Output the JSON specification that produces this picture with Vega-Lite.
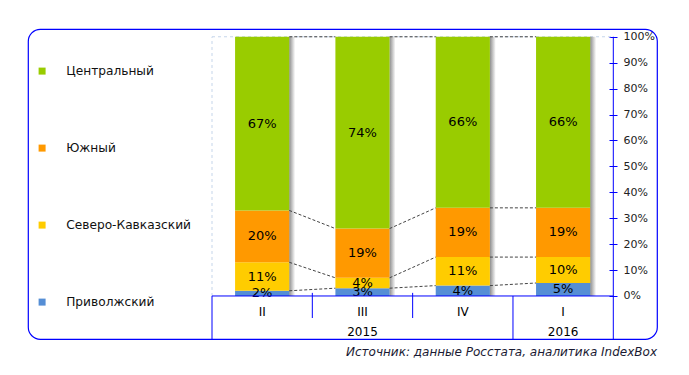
{
  "$schema": "https://vega.github.io/schema/vega-lite/v6.json",
  "width": 629,
  "height": 310,
  "autosize": {"type": "none"},
  "padding": {"left": 28, "top": 29, "right": 32, "bottom": 36},
  "background": "#ffffff",
  "config": {
    "font": "DejaVu Sans",
    "view": {"stroke": "#0000FF", "strokeWidth": 1.2, "cornerRadius": 12, "fill": "#ffffff"}
  },
  "title": {
    "text": "Источник: данные Росстата, аналитика IndexBox",
    "orient": "bottom",
    "anchor": "end",
    "frame": "group",
    "fontSize": 12,
    "fontStyle": "italic",
    "fontWeight": "normal",
    "color": "#1a1a33",
    "offset": 7
  },
  "datasets": {
    "shares": [
      {"period": "2015 II", "region": "Приволжский", "value": 2, "order": 1},
      {"period": "2015 II", "region": "Северо-Кавказский", "value": 11, "order": 2},
      {"period": "2015 II", "region": "Южный", "value": 20, "order": 3},
      {"period": "2015 II", "region": "Центральный", "value": 67, "order": 4},
      {"period": "2015 III", "region": "Приволжский", "value": 3, "order": 1},
      {"period": "2015 III", "region": "Северо-Кавказский", "value": 4, "order": 2},
      {"period": "2015 III", "region": "Южный", "value": 19, "order": 3},
      {"period": "2015 III", "region": "Центральный", "value": 74, "order": 4},
      {"period": "2015 IV", "region": "Приволжский", "value": 4, "order": 1},
      {"period": "2015 IV", "region": "Северо-Кавказский", "value": 11, "order": 2},
      {"period": "2015 IV", "region": "Южный", "value": 19, "order": 3},
      {"period": "2015 IV", "region": "Центральный", "value": 66, "order": 4},
      {"period": "2016 I", "region": "Приволжский", "value": 5, "order": 1},
      {"period": "2016 I", "region": "Северо-Кавказский", "value": 10, "order": 2},
      {"period": "2016 I", "region": "Южный", "value": 19, "order": 3},
      {"period": "2016 I", "region": "Центральный", "value": 66, "order": 4}
    ]
  },
  "layer": [
    {
      "data": {"values": [{}]},
      "mark": {"type": "rule", "color": "#C5D5EA", "strokeDash": [3, 3], "strokeWidth": 1},
      "encoding": {
        "x": {"datum": "2015 II", "type": "nominal", "bandPosition": 0,
              "scale": {"domain": ["2015 II", "2015 III", "2015 IV", "2016 I"], "range": [184, 585.3], "paddingInner": 0, "paddingOuter": 0},
              "axis": {"orient": "bottom", "offset": -43, "domain": false, "ticks": false, "grid": false,
                       "labelPadding": 10, "labelBaseline": "top", "labelLineHeight": 20, "labelAngle": 0,
                       "labelFontSize": 12, "labelColor": "#000000", "title": null,
                       "labelExpr": "datum.value == '2015 III' ? ['III', '2015'] : datum.value == '2016 I' ? ['I', '2016'] : split(datum.value, ' ')[1]"}},
        "y": {"datum": 0, "type": "quantitative", "scale": {"domain": [-16.6, 103], "nice": false, "zero": false},
              "axis": {"orient": "right", "offset": -48, "values": [0, 10, 20, 30, 40, 50, 60, 70, 80, 90, 100],
                       "tickCount": 12,
                       "domain": false, "grid": false, "tickSize": 8, "tickColor": "#0000FF", "tickWidth": 1,
                       "labelPadding": 6, "labelFontSize": 11, "labelColor": "#222222", "labelAlign": "left",
                       "labelOverlap": false, "labelFlush": false,
                       "labelExpr": "datum.value + '%'", "title": null}},
        "y2": {"datum": 100}
      }
    },
    {
      "data": {"values": [{}]},
      "mark": {"type": "rule", "color": "#C5D5EA", "strokeDash": [3, 3], "strokeWidth": 1},
      "encoding": {
        "x": {"datum": "2015 II", "type": "nominal", "bandPosition": 0},
        "x2": {"datum": "2016 I", "bandPosition": 1},
        "y": {"datum": 100, "type": "quantitative"}
      }
    },
    {
      "data": {"name": "shares"},
      "transform": [
        {"stack": "value", "groupby": ["period"], "sort": [{"field": "order", "order": "ascending"}], "as": ["y0", "y1"]},
        {"calculate": "(datum.y0 + datum.y1) / 2", "as": "mid"},
        {"calculate": "datum.value + '%'", "as": "label"}
      ],
      "layer": [
        {
          "transform": [{"filter": "datum.region == 'Центральный'"}],
          "mark": {"type": "bar", "width": {"band": 0.06}, "xOffset": 30,
                   "color": {"gradient": "linear", "x1": 0, "x2": 1, "y1": 0, "y2": 0,
                             "stops": [{"offset": 0, "color": "#8c8c8c"}, {"offset": 1, "color": "#ffffff"}]}},
          "encoding": {
            "x": {"field": "period", "type": "nominal"},
            "y": {"field": "y1", "type": "quantitative"},
            "y2": {"datum": 0}
          }
        },
        {
          "mark": {"type": "bar", "width": {"band": 0.54}},
          "encoding": {
            "x": {"field": "period", "type": "nominal"},
            "y": {"field": "y0", "type": "quantitative"},
            "y2": {"field": "y1"},
            "color": {"field": "region", "type": "nominal",
                      "scale": {"domain": ["Центральный", "Южный", "Северо-Кавказский", "Приволжский"],
                                "range": ["#99CC00", "#FF9900", "#FFCC00", "#558ED5"]},
                      "legend": {"orient": "none", "legendX": 8, "legendY": 36, "title": null,
                                 "symbolType": "square", "symbolSize": 49, "symbolStrokeWidth": 0,
                                 "labelFontSize": 12.2, "labelOffset": 18, "rowPadding": 64, "padding": 0,
                                 "labelColor": "#111111"}}
          }
        },
        {
          "mark": {"type": "text", "fontSize": 13, "color": "#000000", "baseline": "middle"},
          "encoding": {
            "x": {"field": "period", "type": "nominal"},
            "y": {"field": "mid", "type": "quantitative"},
            "text": {"field": "label"}
          }
        },
        {
          "transform": [
            {"window": [{"op": "lead", "field": "y1", "as": "ny1"}, {"op": "lead", "field": "period", "as": "nperiod"}],
             "groupby": ["region"], "sort": [{"field": "period", "order": "ascending"}]},
            {"filter": "datum.nperiod != null"}
          ],
          "mark": {"type": "rule", "color": "#444444", "strokeDash": [3, 2], "strokeWidth": 1},
          "encoding": {
            "x": {"field": "period", "type": "nominal", "bandPosition": 0.77},
            "x2": {"field": "nperiod", "bandPosition": 0.23},
            "y": {"field": "y1", "type": "quantitative"},
            "y2": {"field": "ny1"}
          }
        }
      ]
    },
    {
      "data": {"values": [{}]},
      "mark": {"type": "rule", "color": "#0000FF", "strokeWidth": 1},
      "encoding": {
        "x": {"datum": "2015 II", "type": "nominal", "bandPosition": 0},
        "x2": {"datum": "2016 I", "bandPosition": 1},
        "y": {"datum": 0, "type": "quantitative"}
      }
    },
    {
      "data": {"values": [{}]},
      "mark": {"type": "rule", "color": "#0000FF", "strokeWidth": 1},
      "encoding": {
        "x": {"datum": "2016 I", "type": "nominal", "bandPosition": 1},
        "y": {"datum": -16.6, "type": "quantitative"},
        "y2": {"datum": 100}
      }
    },
    {
      "data": {"values": [{"p": "2015 II"}, {"p": "2016 I"}]},
      "mark": {"type": "rule", "color": "#0000FF", "strokeWidth": 1},
      "encoding": {
        "x": {"field": "p", "type": "nominal", "bandPosition": 0},
        "y": {"datum": -16.6, "type": "quantitative"},
        "y2": {"datum": 0}
      }
    },
    {
      "data": {"values": [{"p": "2015 III"}, {"p": "2015 IV"}]},
      "mark": {"type": "rule", "color": "#0000FF", "strokeWidth": 1},
      "encoding": {
        "x": {"field": "p", "type": "nominal", "bandPosition": 0},
        "y": {"datum": -8.5, "type": "quantitative"},
        "y2": {"datum": 1.2}
      }
    }
  ]
}
